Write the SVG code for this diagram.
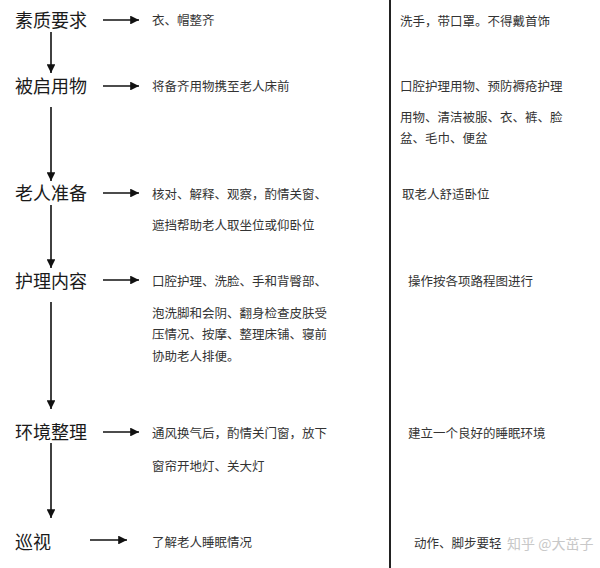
<svg xmlns="http://www.w3.org/2000/svg" width="600" height="568" viewBox="0 0 600 568">
<style>
.h{font-family:"Noto Sans CJK SC","Noto Sans",sans-serif;font-size:18px;fill:#1a1a1a}
.t{font-family:"Noto Sans CJK SC","Noto Sans",sans-serif;font-size:12.5px;fill:#333}
.c{stroke:#111;stroke-width:1.6;fill:none;marker-end:url(#ah)}
.wm{font-family:"Noto Sans CJK SC","Noto Sans",sans-serif;font-size:14px;fill:#c8c8c8}
</style>
<defs>
<marker id="ah" viewBox="0 0 10 10" refX="10" refY="5" markerWidth="5.5" markerHeight="5.5" orient="auto" markerUnits="strokeWidth">
<path d="M0,0 L10,5 L0,10 z" fill="#111"/>
</marker>
</defs>
<rect width="600" height="568" fill="#fff"/>
<g id="divider"><line x1="390" y1="0" x2="390" y2="568" stroke="#222" stroke-width="2"/></g>
<g id="connectors">
<line class="c" x1="51" y1="32" x2="51" y2="73"/>
<line class="c" x1="51" y1="107" x2="51" y2="181"/>
<line class="c" x1="51" y1="205" x2="51" y2="268"/>
<line class="c" x1="51" y1="302" x2="51" y2="409"/>
<line class="c" x1="51" y1="443" x2="51" y2="518"/>
<line class="c" x1="103" y1="20" x2="139" y2="20"/>
<line class="c" x1="103" y1="86" x2="139" y2="86"/>
<line class="c" x1="103" y1="193" x2="139" y2="193"/>
<line class="c" x1="103" y1="280" x2="139" y2="280"/>
<line class="c" x1="103" y1="432" x2="139" y2="432"/>
<line class="c" x1="90" y1="540" x2="127" y2="540"/>
</g>
<g id="n1"><text class="h" x="15" y="27">素质要求</text><text class="t" x="152" y="25">衣、帽整齐</text><text class="t" x="400" y="26">洗手，带口罩。不得戴首饰</text></g>
<g id="n2"><text class="h" x="15" y="93">被启用物</text><text class="t" x="152" y="91">将备齐用物携至老人床前</text><text class="t" x="400" y="91">口腔护理用物、预防褥疮护理</text><text class="t" x="400" y="122">用物、清洁被服、衣、裤、脸</text><text class="t" x="400" y="143">盆、毛巾、便盆</text></g>
<g id="n3"><text class="h" x="15" y="200">老人准备</text><text class="t" x="152" y="199">核对、解释、观察，酌情关窗、</text><text class="t" x="152" y="230">遮挡帮助老人取坐位或仰卧位</text><text class="t" x="402" y="199">取老人舒适卧位</text></g>
<g id="n4"><text class="h" x="15" y="288">护理内容</text><text class="t" x="152" y="286">口腔护理、洗脸、手和背臀部、</text><text class="t" x="152" y="318">泡洗脚和会阴、翻身检查皮肤受</text><text class="t" x="152" y="339">压情况、按摩、整理床铺、寝前</text><text class="t" x="152" y="361">协助老人排便。</text><text class="t" x="408" y="286">操作按各项路程图进行</text></g>
<g id="n5"><text class="h" x="15" y="439">环境整理</text><text class="t" x="152" y="438">通风换气后，酌情关门窗，放下</text><text class="t" x="152" y="471">窗帘开地灯、关大灯</text><text class="t" x="408" y="438">建立一个良好的睡眠环境</text></g>
<g id="n6"><text class="h" x="15" y="549">巡视</text><text class="t" x="152" y="547">了解老人睡眠情况</text><text class="t" x="414" y="548">动作、脚步要轻</text></g>
<g id="watermark"><text class="wm" x="507" y="549">知乎 @大茁子</text></g>
</svg>
